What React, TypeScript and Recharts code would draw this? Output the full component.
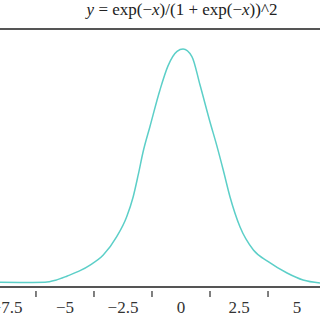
import { LineChart, Line, XAxis, YAxis, ReferenceLine } from "recharts"

// x positions and density values
const xValues = [
  -7.8, -6.94, -5.86, -5.4, -4.9, -4.33, -3.92, -3.35, -2.77, -2.34, -2.06, -1.84, -1.63, -1.34, -0.91, -0.56,
  -0.17, 0.09, 0.47, 0.82, 1.25, 1.54, 1.82, 2.11, 2.54, 3.12, 3.76, 4.57, 5.26, 5.99,
]
const yValues = [
  0.0007, 0.0005, 0.0008, 0.003, 0.0075, 0.0134, 0.0192, 0.0299, 0.0495, 0.0708, 0.0922, 0.116, 0.1405, 0.167,
  0.206, 0.232, 0.2475, 0.25, 0.242, 0.2115, 0.172, 0.147, 0.1207, 0.0922, 0.0601, 0.0353, 0.0228, 0.0107,
  0.0032, 0.0,
]
const xTicks = [-7.5, -6.25, -5, -3.75, -2.5, -1.25, 0, 1.25, 2.5, 3.75, 5]
const labelTicks = [-7.5, -5, -2.5, 0, 2.5, 5]

const data = xValues.map((x, i) => ({ x, y: yValues[i] }))

const X_DOMAIN = [-7.8, 5.99]
const Y_MAX = 0.2714
const AXIS_COLOR = "#555"
const SERIF = "'Liberation Serif', 'DejaVu Serif', serif"

const fmt = (v: number) => (v < 0 ? "\u2212" + Math.abs(v) : String(v))

function XTick(props: any) {
  const { x, y, payload } = props
  const v = payload.value
  if (labelTicks.includes(v)) {
    return (
      <text x={x} y={y + 16} textAnchor="middle" fontFamily={SERIF} fontSize={17} fill="#333">
        {fmt(v)}
      </text>
    )
  }
  return <line x1={x} x2={x} y1={y - 6} y2={y} stroke={AXIS_COLOR} strokeWidth={1.5} />
}

export default function App() {
  return (
    <div style={{ position: "fixed", left: 0, top: 0, width: 320, height: 320, background: "#fff" }}>
      <div
        style={{
          position: "absolute",
          left: 0,
          width: 320,
          top: 0,
          textAlign: "center",
          paddingLeft: 44,
          boxSizing: "border-box",
          fontFamily: SERIF,
          fontSize: 17,
          lineHeight: "20px",
          color: "#222",
        }}
      >
        <i>y</i> = exp(−<i>x</i>)/(1 + exp(−<i>x</i>))^2
      </div>
      <LineChart width={320} height={320} data={data} margin={{ top: 29, right: 0, bottom: 0, left: 0 }}>
        <XAxis
          dataKey="x"
          type="number"
          domain={X_DOMAIN}
          ticks={xTicks}
          interval={0}
          height={33}
          tickLine={false}
          tickSize={8}
          tick={<XTick />}
          axisLine={{ stroke: AXIS_COLOR, strokeWidth: 2 }}
        />
        <YAxis hide type="number" domain={[-0.0043, Y_MAX]} />
        <ReferenceLine y={Y_MAX} stroke={AXIS_COLOR} strokeWidth={2} />
        <Line
          type="monotone"
          dataKey="y"
          stroke="#5ccfc8"
          strokeWidth={1.5}
          dot={false}
          isAnimationActive={false}
        />
      </LineChart>
    </div>
  )
}
